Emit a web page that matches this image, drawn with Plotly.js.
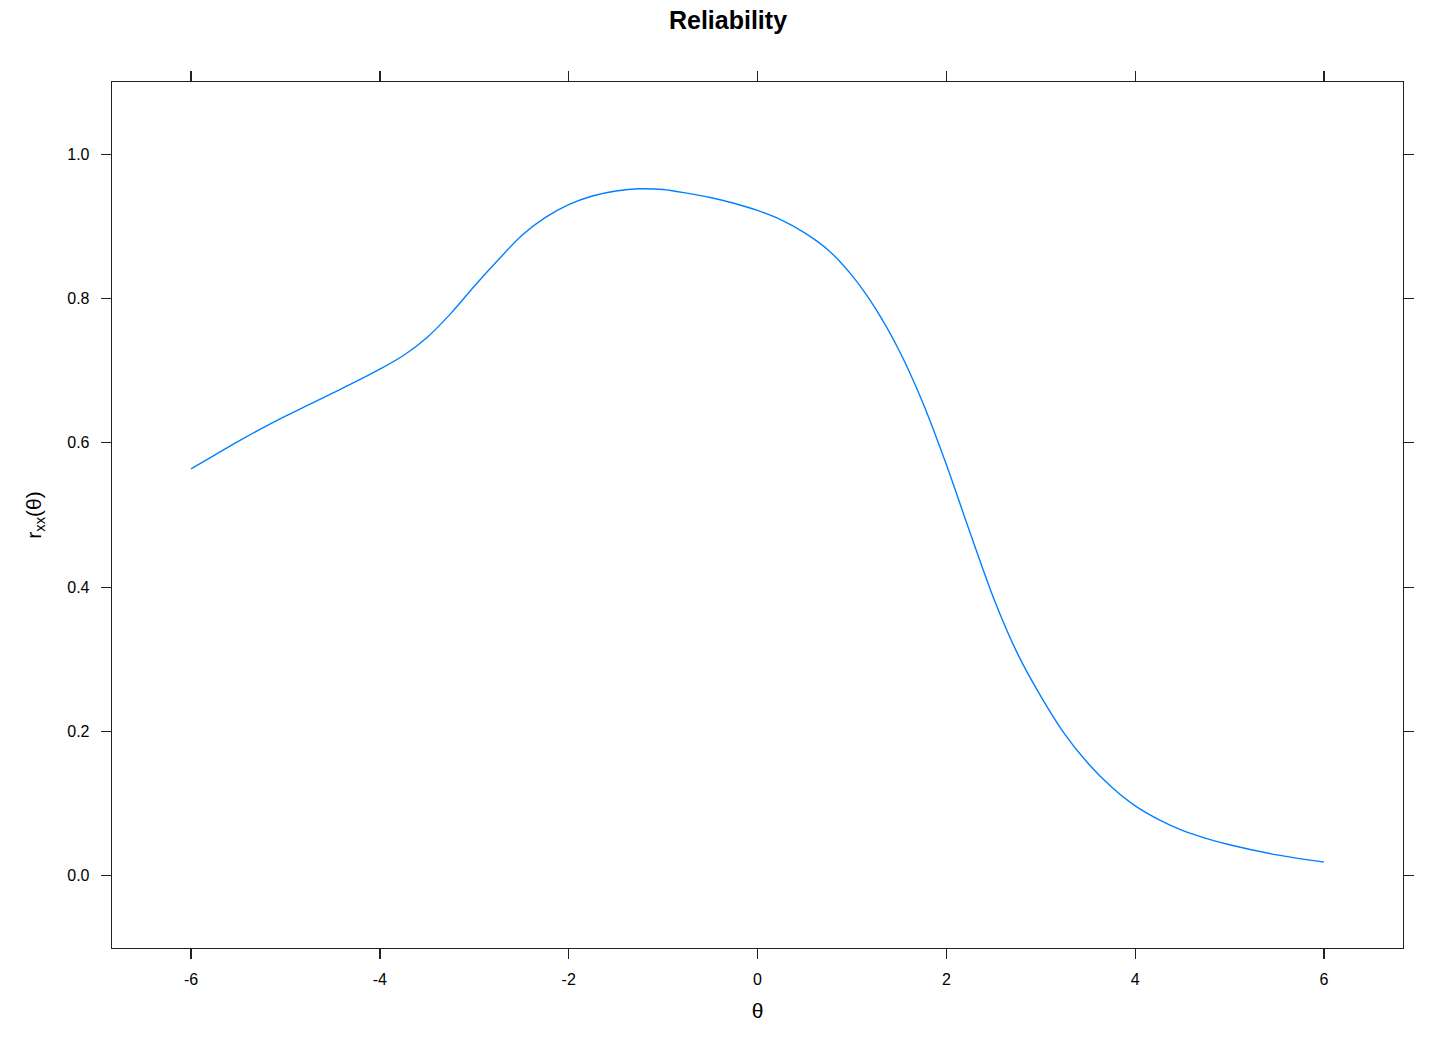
<!DOCTYPE html>
<html>
<head>
<meta charset="utf-8">
<script src="https://cdn.plot.ly/plotly-3.0.1.min.js"></script>
<style>html,body{margin:0;padding:0;background:#fff;}#chart{width:1456px;height:1052px;}</style>
</head>
<body>
<div id="chart"></div>
<script>
const theta = [-6, -5.75, -5.5, -5.25, -5, -4.75, -4.5, -4.25, -4, -3.75, -3.5, -3.25, -3, -2.75, -2.5, -2.25, -2, -1.75, -1.5, -1.25, -1, -0.75, -0.5, -0.25, 0, 0.25, 0.5, 0.75, 1, 1.25, 1.5, 1.75, 2, 2.25, 2.5, 2.75, 3, 3.25, 3.5, 3.75, 4, 4.25, 4.5, 4.75, 5, 5.5, 6];
const reliability = [0.564, 0.583, 0.602, 0.620, 0.637, 0.653, 0.669, 0.685, 0.702, 0.721, 0.746, 0.779, 0.817, 0.853, 0.887, 0.912, 0.930, 0.942, 0.949, 0.952, 0.951, 0.946, 0.940, 0.932, 0.922, 0.909, 0.891, 0.867, 0.832, 0.786, 0.728, 0.656, 0.570, 0.476, 0.385, 0.309, 0.249, 0.197, 0.156, 0.123, 0.097, 0.078, 0.063, 0.052, 0.043, 0.029, 0.019];
const xTickVals = [-6, -4, -2, 0, 2, 4, 6];
const xTickText = ['-6', '-4', '-2', '0', '2', '4', '6'];
const yTickVals = [0, 0.2, 0.4, 0.6, 0.8, 1.0];
const yTickText = ['0.0', '0.2', '0.4', '0.6', '0.8', '1.0'];

const font = 'Liberation Sans, Arial, Helvetica, sans-serif';
const axisCommon = {
  showgrid: false, zeroline: false, showline: true, linecolor: '#222', linewidth: 1.3,
  mirror: 'ticks', ticks: 'outside', ticklen: 10, tickwidth: 1.3, tickcolor: '#222',
  tickfont: {family: font, size: 16, color: '#000'}, ticklabelstandoff: 8
};
const data = [{
  x: theta, y: reliability, type: 'scatter', mode: 'lines',
  line: {color: '#0080FF', width: 1.4, shape: 'spline', smoothing: 0.8},
  hoverinfo: 'x+y'
}];
const layout = {
  width: 1456, height: 1052,
  margin: {l: 112, r: 53, t: 82, b: 104},
  paper_bgcolor: '#fff', plot_bgcolor: '#fff',
  showlegend: false,
  font: {family: font, color: '#000'},
  title: {text: '<b>Reliability</b>', font: {family: font, size: 25, color: '#000'}, x: 0.5, xanchor: 'center', yref: 'container', y: 1 - 20/1052, yanchor: 'middle'},
  xaxis: Object.assign({}, axisCommon, {
    range: [-6.837, 6.837], tickvals: xTickVals, ticktext: xTickText, ticklabelstandoff: 6,
    title: {text: 'θ', font: {family: font, size: 21, color: '#000'}, standoff: 16}
  }),
  yaxis: Object.assign({}, axisCommon, {
    range: [-0.1, 1.1], tickvals: yTickVals, ticktext: yTickText,
    title: {text: 'r<sub>xx</sub>(θ)', font: {family: font, size: 21, color: '#000'}, standoff: 20}
  })
};
Plotly.newPlot('chart', data, layout, {displayModeBar: false, staticPlot: true});
</script>
</body>
</html>
